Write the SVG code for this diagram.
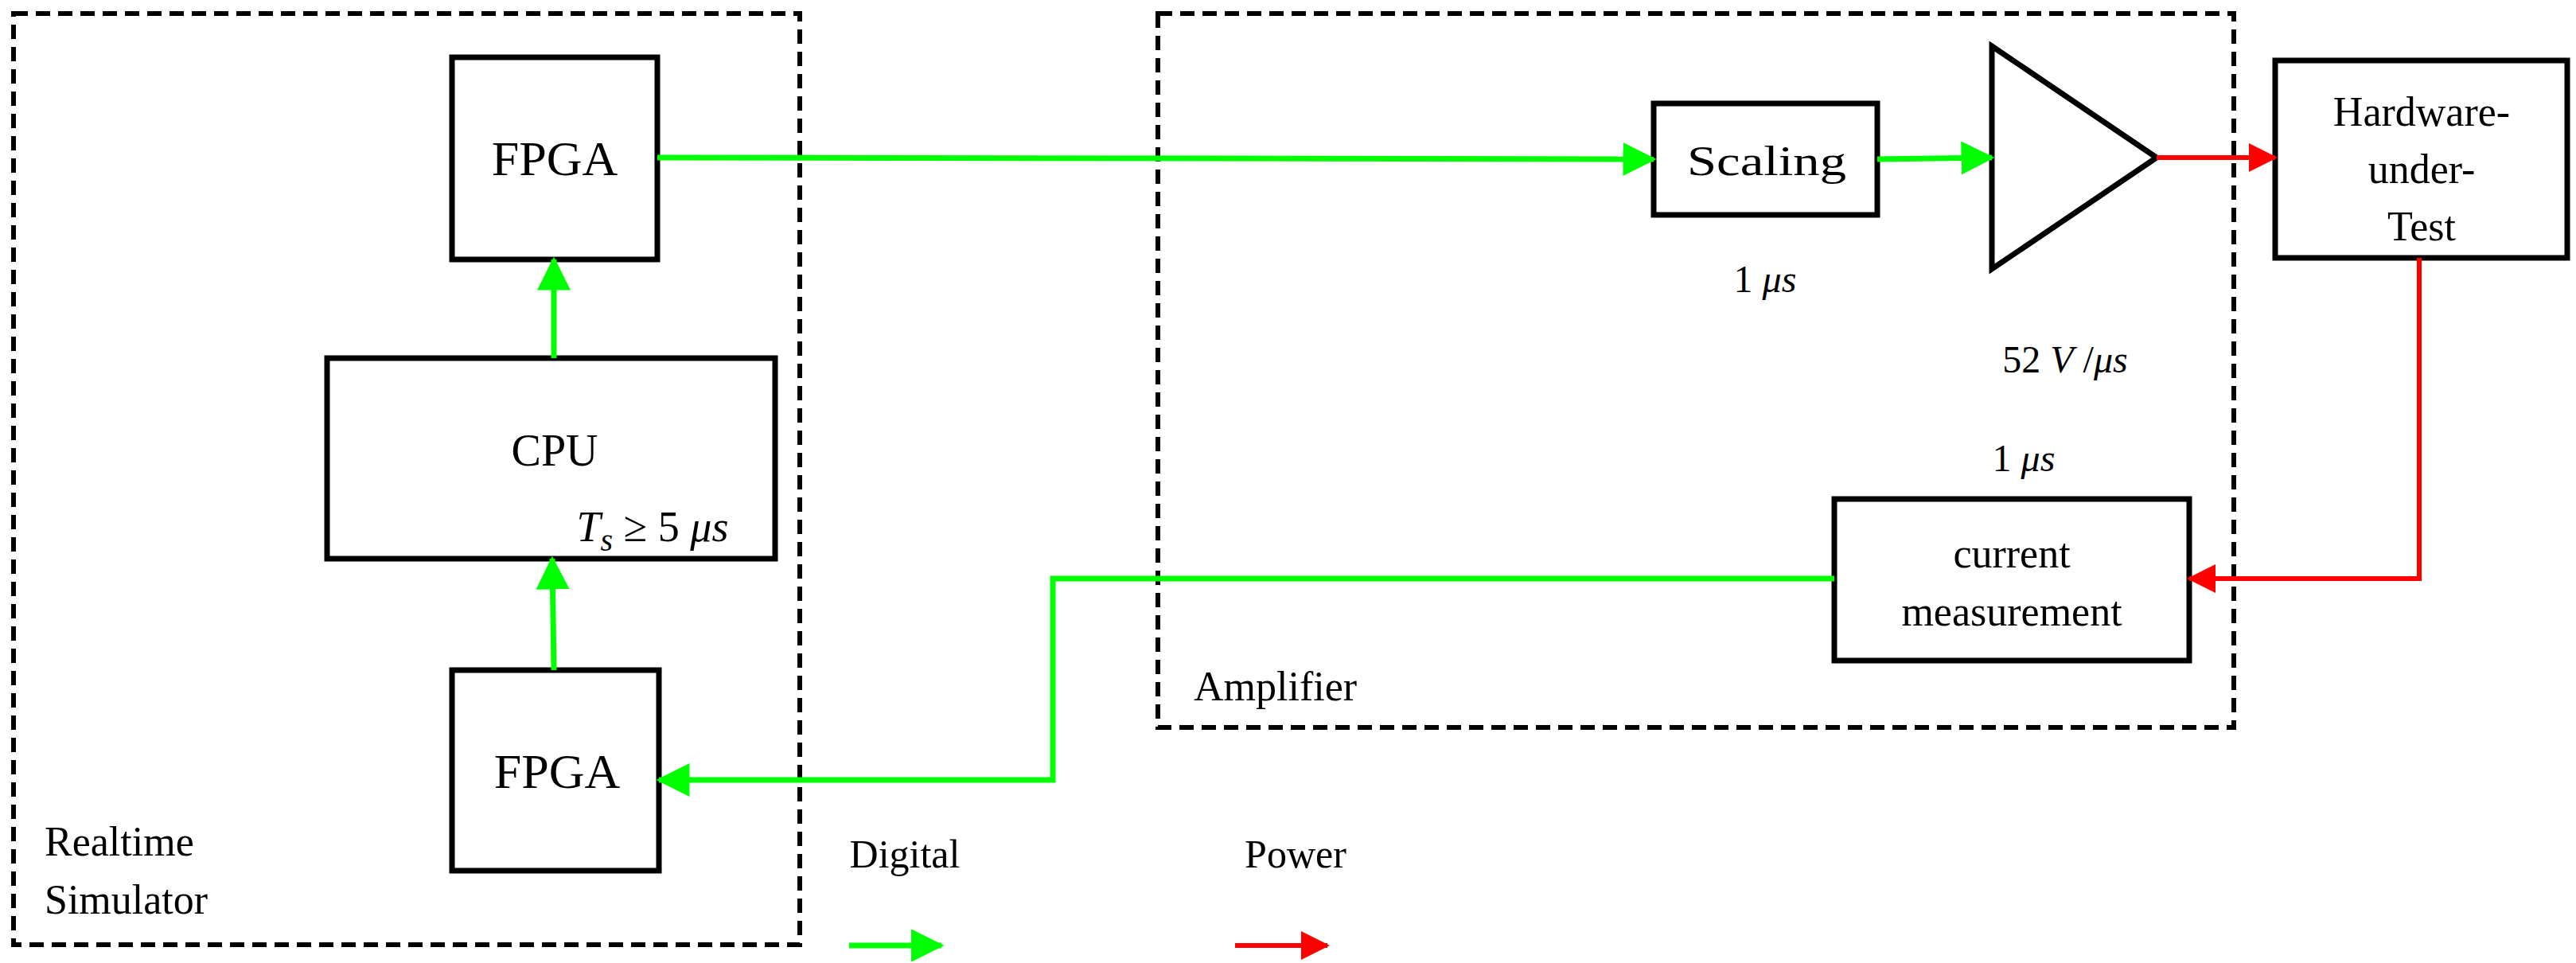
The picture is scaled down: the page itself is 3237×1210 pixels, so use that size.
<svg xmlns="http://www.w3.org/2000/svg" width="3237" height="1210" viewBox="0 0 3237 1210">
<style>
.box{fill:#fff;stroke:#000;stroke-width:7}
.dash{fill:none;stroke:#000;stroke-width:6;stroke-dasharray:18 10}
.t{font-family:"Liberation Serif",serif;fill:#000;text-anchor:middle}
.g{fill:none;stroke:#00ff00;stroke-width:7}
.r{fill:none;stroke:#ff0000;stroke-width:6}
</style>
<defs>
<marker id="ag" markerWidth="6" markerHeight="6" refX="5.5" refY="3" orient="auto" markerUnits="strokeWidth"><path d="M0,0 L6,3 L0,6 z" fill="#00ff00"/></marker>
<marker id="ar" markerWidth="6" markerHeight="6" refX="5.5" refY="3" orient="auto" markerUnits="strokeWidth"><path d="M0,0 L6,3 L0,6 z" fill="#ff0000"/></marker>
</defs>
<rect width="3237" height="1210" fill="#fff"/>
<g id="realtime"><rect class="dash" x="17" y="17" width="988" height="1170"/>
<text class="t" x="56" y="1075" font-size="52" text-anchor="start" style="text-anchor:start">Realtime</text>
<text class="t" x="56" y="1148" font-size="52" style="text-anchor:start">Simulator</text></g>
<g id="amplifier"><rect class="dash" x="1455" y="17" width="1352" height="897"/>
<text class="t" x="1500" y="880" font-size="52" style="text-anchor:start">Amplifier</text></g>
<g id="fpga1"><rect class="box" x="568" y="72" width="258" height="254"/><text class="t" x="697" y="220" font-size="62">FPGA</text></g>
<g id="cpu"><rect class="box" x="411" y="450" width="563" height="252"/><text class="t" x="697" y="585" font-size="56">CPU</text>
<text class="t" x="820" y="680" font-size="54" font-style="italic">T<tspan font-size="40" dy="12">s</tspan><tspan dy="-12" font-style="normal"> ≥ 5 </tspan>μs</text></g>
<g id="fpga2"><rect class="box" x="568" y="842" width="260" height="252"/><text class="t" x="700" y="990" font-size="62">FPGA</text></g>
<g id="scaling"><rect class="box" x="2078" y="130" width="281" height="140"/><text class="t" x="2220" y="220" font-size="52" textLength="200" lengthAdjust="spacingAndGlyphs">Scaling</text></g>
<g id="amp"><path d="M2503,58 L2710,198 L2503,338 z" fill="#fff" stroke="#000" stroke-width="7"/></g>
<g id="hut"><rect class="box" x="2859" y="76" width="367" height="248"/>
<text class="t" x="3043" y="158" font-size="52">Hardware-</text><text class="t" x="3043" y="230" font-size="52">under-</text><text class="t" x="3043" y="302" font-size="52">Test</text></g>
<g id="cm"><rect class="box" x="2305" y="627" width="446" height="203"/>
<text class="t" x="2528" y="713" font-size="52">current</text><text class="t" x="2528" y="786" font-size="52">measurement</text></g>
<g id="labels">
<text class="t" x="2218" y="367" font-size="48"><tspan>1 </tspan><tspan font-style="italic">μs</tspan></text>
<text class="t" x="2595" y="468" font-size="48"><tspan>52 </tspan><tspan font-style="italic">V</tspan><tspan> /</tspan><tspan font-style="italic">μs</tspan></text>
<text class="t" x="2543" y="592" font-size="48"><tspan>1 </tspan><tspan font-style="italic">μs</tspan></text>
<text class="t" x="1137" y="1090" font-size="50">Digital</text>
<text class="t" x="1628" y="1090" font-size="50">Power</text>
</g>
<g id="connectors">
<path class="g" d="M826,198 L2078,200" marker-end="url(#ag)"/>
<path class="g" d="M2359,200 L2503,198" marker-end="url(#ag)"/>
<path class="r" d="M2710,198 L2859,198" marker-end="url(#ar)"/>
<path class="r" d="M3040,324 L3040,727 L2751,727" marker-end="url(#ar)"/>
<path class="g" d="M2305,727 L1323,727 L1323,980 L828,980" marker-end="url(#ag)"/>
<path class="g" d="M696,450 L696,326" marker-end="url(#ag)"/>
<path class="g" d="M696,842 L694,702" marker-end="url(#ag)"/>
<path class="g" d="M1067,1188 L1183,1188" marker-end="url(#ag)"/>
<path class="r" d="M1552,1188 L1668,1188" marker-end="url(#ar)"/>
</g>
</svg>
